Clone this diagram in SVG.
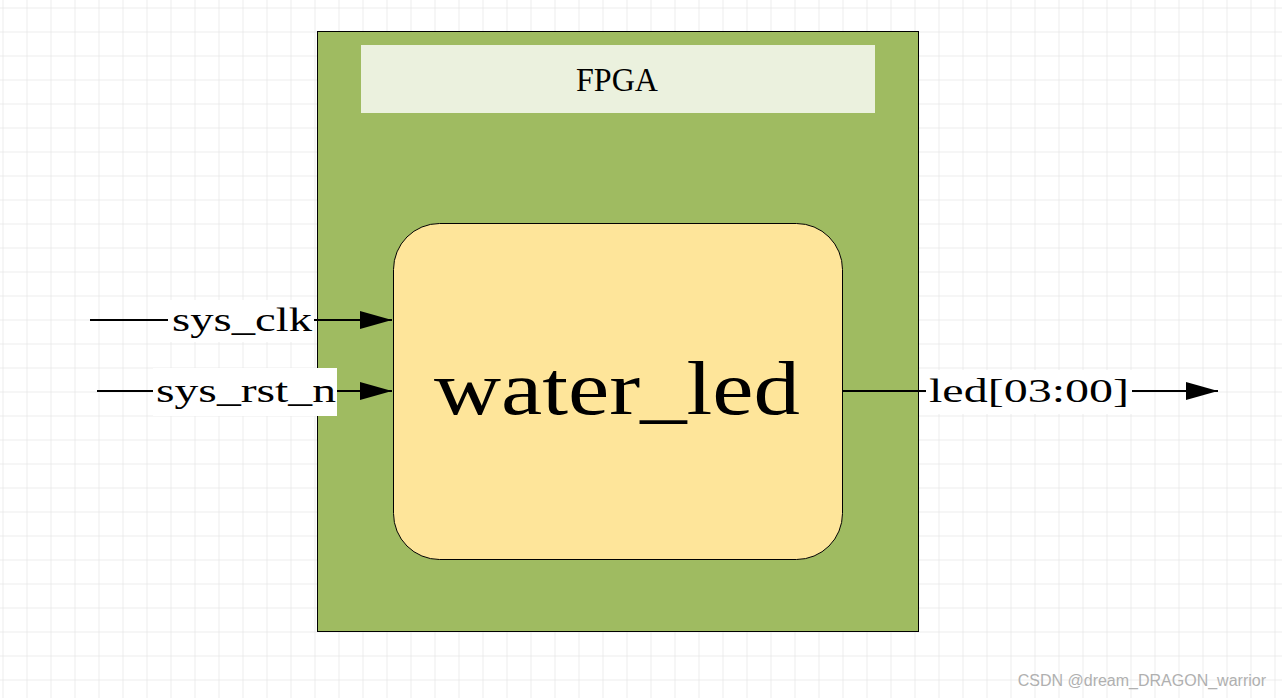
<svg xmlns="http://www.w3.org/2000/svg" width="1282" height="698" viewBox="0 0 1282 698">
<defs>
<pattern id="grid" x="2.5" y="7.5" width="24" height="24" patternUnits="userSpaceOnUse">
<path d="M0 0H24M0 0V24" stroke="#dcdcdc" stroke-width="1" fill="none"/>
</pattern>
<marker id="arr" markerWidth="32" markerHeight="18" refX="32" refY="9" orient="auto" markerUnits="userSpaceOnUse">
<path d="M0 0L32 9L0 18Z" fill="#000"/>
</marker>
<style>
.t{font-family:"Liberation Serif","DejaVu Serif",serif;fill:#000}
.w{fill:#fff}
.c{stroke:#000;stroke-width:2;fill:none}
</style>
</defs>
<rect width="1282" height="698" fill="#fff"/>
<rect width="1282" height="698" fill="url(#grid)"/>
<g id="fpga">
<rect x="317.5" y="31.5" width="601" height="600" fill="#9fbb61" stroke="#000" stroke-width="1"/>
<rect x="361" y="45" width="514" height="68" fill="#ebf1de"/>
<text class="t" x="617" y="91" font-size="34" text-anchor="middle" textLength="82" lengthAdjust="spacingAndGlyphs">FPGA</text>
</g>
<g id="water_led">
<rect x="393.5" y="223.5" width="449" height="336" rx="46" fill="#fee59a" stroke="#000" stroke-width="1"/>
<text class="t" x="617" y="414" font-size="76" text-anchor="middle" textLength="366" lengthAdjust="spacingAndGlyphs">water_led</text>
</g>
<g id="connectors">
<line class="c" x1="90" y1="320" x2="392" y2="320" marker-end="url(#arr)"/>
<line class="c" x1="97" y1="391" x2="392" y2="391" marker-end="url(#arr)"/>
<line class="c" x1="843" y1="391" x2="1218" y2="391" marker-end="url(#arr)"/>
</g>
<g id="labels">
<rect class="w" x="168" y="300" width="146" height="42"/>
<text class="t" x="172" y="331" font-size="34" textLength="140" lengthAdjust="spacingAndGlyphs">sys_clk</text>
<rect class="w" x="153" y="368" width="184" height="48"/>
<text class="t" x="156" y="402" font-size="34" textLength="180" lengthAdjust="spacingAndGlyphs">sys_rst_n</text>
<rect class="w" x="926" y="370" width="206" height="44"/>
<text class="t" x="929" y="402" font-size="34" textLength="200" lengthAdjust="spacingAndGlyphs">led[03:00]</text>
</g>
<text x="1266" y="686" font-family="Liberation Sans, sans-serif" font-size="16" fill="#b0b0b0" text-anchor="end">CSDN @dream_DRAGON_warrior</text>
</svg>
